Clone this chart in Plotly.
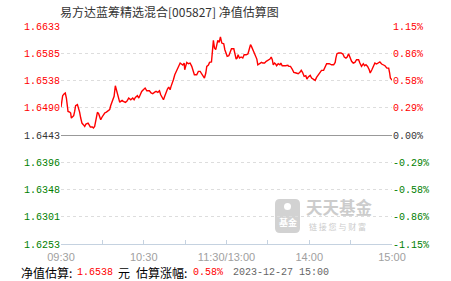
import plotly.graph_objects as go

# ---------------- data ----------------
minutes = [0, 0.7, 1.2, 2.2, 3.1, 3.9, 4.4, 5.1, 6.3, 7.0, 7.5, 8.5, 9.2, 9.9, 10.6, 11.9, 12.8, 13.5, 14.3,
           15.2, 16.2, 17.2, 18.1, 19.6, 20.3, 21.3, 22.7, 23.5, 24.4, 25.2, 25.9, 26.4, 27.3, 28.1, 28.8,
           29.8, 30.7, 31.7, 32.9, 34.1, 35.3, 36.0, 37.0, 38.0, 38.5, 39.4, 40.2, 40.9, 41.8, 42.6, 43.3,
           44.3, 45.2, 46.7, 47.7, 49.1, 50.6, 52.0, 53.0, 53.9, 55.4, 56.4,
           57.3, 58.5, 59.7, 61.0, 62.2, 64.1, 65.3, 66.5, 67.7, 68.9, 70.2, 71.4, 72.3, 73.3, 74.3, 75.2,
           76.2, 77.2, 78.1, 79.1, 79.8, 80.5, 81.5, 82.5, 83.5, 84.4, 85.4, 86.4, 87.3, 88.3, 89.3, 89.7,
           90.5, 91.2, 92.4, 93.6, 94.8, 96.0, 96.7, 98.4, 99.6, 100.9, 102.1, 103.3, 104.0, 105.0, 105.7,
           106.9, 107.7, 109.1, 109.8, 110.5, 111.3, 112.2, 113.0, 113.7, 114.7, 115.6,
           116.6, 118.0, 118.8, 119.7, 120.5, 121.7, 122.9, 123.6, 125.3, 126.1, 127.0, 127.7, 128.4, 129.4,
           130.6, 131.8, 132.8, 134.3, 135.5, 136.2, 137.4, 138.1, 139.1, 139.8, 141.0, 142.0, 142.7, 143.9,
           145.4, 146.3, 147.6, 148.8, 150.2, 151.5, 152.4, 153.2, 153.9, 154.8, 155.6, 156.3, 157.5, 158.7,
           159.4, 160.4, 162.8, 164.5, 165.2, 166.4, 167.6, 168.8, 170.5, 172.0, 173.2, 174.2, 175.1,
           176.3, 177.5, 178.3, 179.3, 180.7, 181.7, 182.9, 184.3, 185.3, 186.5, 187.7, 188.9, 190.4, 191.4,
           192.6, 194.5, 196.2, 197.7, 198.8, 199.3, 200.1, 201.3, 203.0, 204.4, 205.4, 206.6, 207.5, 208.5,
           209.5, 210.7, 211.9, 213.1, 214.3, 215.8, 216.7, 217.9, 219.2, 220.1, 221.1, 222.3, 223.5, 224.2,
           225.4, 226.4, 227.6, 228.8, 230.0, 231.2, 232.5, 233.7, 234.9, 236.3, 237.6, 238.3, 238.8, 240.0]

pct_change = [0.295, 0.355, 0.415, 0.433, 0.443, 0.390, 0.302, 0.249, 0.242, 0.232, 0.179, 0.190, 0.204, 0.249,
              0.309, 0.320, 0.285, 0.242, 0.179, 0.126, 0.109, 0.091, 0.116, 0.126, 0.109, 0.084, 0.084, 0.074,
              0.091, 0.144, 0.207, 0.239, 0.225, 0.179, 0.161, 0.190, 0.214, 0.232, 0.242, 0.260, 0.267, 0.309,
              0.355, 0.379, 0.408, 0.520, 0.478, 0.425, 0.372, 0.344, 0.355, 0.365, 0.355, 0.344, 0.355, 0.390,
              0.372, 0.390, 0.372, 0.397, 0.415, 0.390,
              0.420, 0.460, 0.478, 0.496, 0.467, 0.467, 0.443, 0.436, 0.450, 0.460, 0.450, 0.467, 0.425, 0.390,
              0.372, 0.408, 0.460, 0.485, 0.506, 0.478, 0.513, 0.555, 0.583, 0.636, 0.671, 0.689, 0.724, 0.759,
              0.749, 0.738, 0.759, 0.689, 0.731, 0.766, 0.752, 0.759, 0.724, 0.671, 0.636, 0.636, 0.671, 0.671,
              0.647, 0.619, 0.601, 0.654, 0.724, 0.738, 0.766, 0.770, 0.900, 0.998, 0.918, 0.900, 0.953, 0.998,
              0.977, 1.034,
              0.970, 0.963, 0.900, 0.858, 0.830, 0.837, 0.882, 0.910, 0.910, 0.865, 0.801, 0.812, 0.847, 0.812,
              0.823, 0.812, 0.847, 0.847, 0.854, 0.889, 0.953, 0.935, 0.900, 0.858, 0.830, 0.801, 0.741, 0.752,
              0.766, 0.759, 0.759, 0.777, 0.787, 0.801, 0.823, 0.794, 0.741, 0.759, 0.749, 0.731, 0.752, 0.741,
              0.759, 0.731, 0.731, 0.735, 0.724, 0.724, 0.696, 0.661, 0.654, 0.647, 0.661, 0.682, 0.661,
              0.619, 0.626, 0.590, 0.612, 0.629, 0.601, 0.590, 0.576, 0.608, 0.636, 0.654, 0.682, 0.682, 0.717,
              0.752, 0.752, 0.741, 0.741, 0.766, 0.812, 0.858, 0.865, 0.865, 0.854, 0.823, 0.812, 0.823, 0.858,
              0.812, 0.777, 0.759, 0.766, 0.794, 0.794, 0.759, 0.724, 0.752, 0.731, 0.741, 0.724, 0.689, 0.654,
              0.689, 0.731, 0.759, 0.749, 0.759, 0.770, 0.749, 0.741, 0.731, 0.706, 0.706, 0.654, 0.601, 0.580]

base_nav = 1.6443
pct_limit = 1.15
nav_tick_labels = ["1.6633", "1.6585", "1.6538", "1.6490", "1.6443", "1.6396", "1.6348", "1.6301", "1.6253"]
pct_tick_labels = ["1.15%", "0.86%", "0.58%", "0.29%", "0.00%", "-0.29%", "-0.58%", "-0.86%", "-1.15%"]
time_tick_labels = ["09:30", "", "10:30", "", "11:30/13:00", "", "14:00", "", "15:00"]
session_minutes = 240

title_text = "易方达蓝筹精选混合[005827] 净值估算图"
est_nav_text = "1.6538"
est_pct_text = "0.58%"
stamp_text = "2023-12-27 15:00"

# ---------------- derived ----------------
nav = [base_nav * (1 + p / 100) for p in pct_change]
n_ticks = len(nav_tick_labels)
half = (n_ticks - 1) // 2
tick_pct = [pct_limit * (half - i) / half for i in range(n_ticks)]
tick_nav = [base_nav * (1 + t / 100) for t in tick_pct]
eps = 1e-7
nav_range = [base_nav * (1 - pct_limit / 100) - eps, base_nav * (1 + pct_limit / 100) + eps]

RED = "#ff0000"
GREEN = "#008000"
DARK = "#333333"


def tcol(i):
    return RED if i < half else (DARK if i == half else GREEN)


nav_ticktext = [f'<span style="color:{tcol(i)}">{t}</span>' for i, t in enumerate(nav_tick_labels)]
pct_ticktext = [f'<span style="color:{tcol(i)}">{t}</span>' for i, t in enumerate(pct_tick_labels)]

# layout geometry (pixels)
W, H = 451, 281
ML, MR, MT, MB = 61, 59, 26, 37
PW, PH = W - ML - MR, H - MT - MB


def px(xp):
    return (xp - ML) / PW


def py(yp):
    return (H - MB - yp) / PH


fig = go.Figure()
fig.add_trace(go.Scatter(x=minutes, y=nav, mode="lines", line=dict(color=RED, width=1.4),
                         hoverinfo="skip", showlegend=False))
fig.add_trace(go.Scatter(x=minutes, y=pct_change, mode="lines", yaxis="y2", opacity=0,
                         line=dict(color=RED, width=1), hoverinfo="skip", showlegend=False))

MONO = "Liberation Mono"
CJK = "Noto Sans CJK SC"

annotations = [
    dict(text=title_text, x=px(58), y=py(12), xref="paper", yref="paper", xanchor="left", yanchor="middle",
         showarrow=False, font=dict(family=CJK, size=12, color=DARK)),
    dict(text="净值估算:", x=px(19), y=py(272), xref="paper", yref="paper", xanchor="left", yanchor="middle",
         showarrow=False, font=dict(family=CJK, size=12, color="#000000")),
    dict(text=est_nav_text, x=px(75), y=py(272), xref="paper", yref="paper", xanchor="left", yanchor="middle",
         showarrow=False, font=dict(family=MONO, size=10, color=RED)),
    dict(text="元", x=px(116), y=py(272), xref="paper", yref="paper", xanchor="left", yanchor="middle",
         showarrow=False, font=dict(family=CJK, size=12, color="#000000")),
    dict(text="估算涨幅:", x=px(134), y=py(272), xref="paper", yref="paper", xanchor="left", yanchor="middle",
         showarrow=False, font=dict(family=CJK, size=12, color="#000000")),
    dict(text=est_pct_text, x=px(191), y=py(272), xref="paper", yref="paper", xanchor="left", yanchor="middle",
         showarrow=False, font=dict(family=MONO, size=10, color=RED)),
    dict(text=stamp_text, x=px(231), y=py(272), xref="paper", yref="paper", xanchor="left", yanchor="middle",
         showarrow=False, font=dict(family=MONO, size=10, color="#666666")),
    # watermark
    dict(text="<b>基金</b>", x=px(287.5), y=py(222), xref="paper", yref="paper", xanchor="center",
         yanchor="middle", showarrow=False, font=dict(family=CJK, size=9, color="#ffffff")),
    dict(text="<b>天天基金</b>", x=px(304), y=py(207), xref="paper", yref="paper", xanchor="left",
         yanchor="middle", showarrow=False, font=dict(family=CJK, size=16.5, color="#cccccc")),
    dict(text="链 接 您 与 财 富", x=px(307), y=py(226), xref="paper", yref="paper", xanchor="left",
         yanchor="middle", showarrow=False, font=dict(family=CJK, size=8, color="#cccccc")),
]


def rounded_rect(x0, y0, x1, y1, r):
    # pixel coordinates -> paper path
    X0, X1 = px(x0), px(x1)
    Y0, Y1 = py(y0), py(y1)
    rx, ry = r / PW, r / PH
    return (f"M {X0+rx} {Y0} L {X1-rx} {Y0} Q {X1} {Y0} {X1} {Y0-ry} L {X1} {Y1+ry} "
            f"Q {X1} {Y1} {X1-rx} {Y1} L {X0+rx} {Y1} Q {X0} {Y1} {X0} {Y1+ry} L {X0} {Y0-ry} "
            f"Q {X0} {Y0} {X0+rx} {Y0} Z")


shapes = [
    dict(type="path", path=rounded_rect(275, 199, 300, 233, 5), xref="paper", yref="paper",
         fillcolor="#d2d2d2", line=dict(width=0), layer="below"),
    dict(type="circle", xref="paper", yref="paper", x0=px(284), x1=px(291), y0=py(210), y1=py(203),
         fillcolor="#ffffff", line=dict(width=0), layer="below"),
]

fig.update_layout(
    width=W, height=H,
    margin=dict(l=ML, r=MR, t=MT, b=MB, pad=0),
    paper_bgcolor="#ffffff", plot_bgcolor="#ffffff",
    showlegend=False,
    annotations=annotations,
    shapes=shapes,
    xaxis=dict(range=[0, session_minutes], tickmode="array",
               tickvals=[session_minutes * i / (len(time_tick_labels) - 1) for i in range(len(time_tick_labels))],
               ticktext=time_tick_labels, ticks="inside", ticklen=4, tickcolor="#c5d2e0", tickwidth=1,
               showline=True, linecolor="#c5d2e0", linewidth=1, showgrid=False, zeroline=False,
               tickfont=dict(family="Liberation Sans", size=11, color="#a0a0a0"), ticklabelstandoff=3,
               fixedrange=True),
    yaxis=dict(range=nav_range, tickmode="array", tickvals=tick_nav, ticktext=nav_ticktext,
               showgrid=True, gridcolor="#dddddd", griddash="dot", gridwidth=1, zeroline=False,
               ticks="", tickfont=dict(family=MONO, size=10), showline=False, fixedrange=True),
    yaxis2=dict(range=[-pct_limit - 1e-5, pct_limit + 1e-5], overlaying="y", side="right", tickmode="array",
                tickvals=tick_pct, ticktext=pct_ticktext, showgrid=False, zeroline=True,
                zerolinecolor="#999999", zerolinewidth=1, ticks="", tickfont=dict(family=MONO, size=10),
                showline=False, fixedrange=True),
)

fig.write_html("out.html")
